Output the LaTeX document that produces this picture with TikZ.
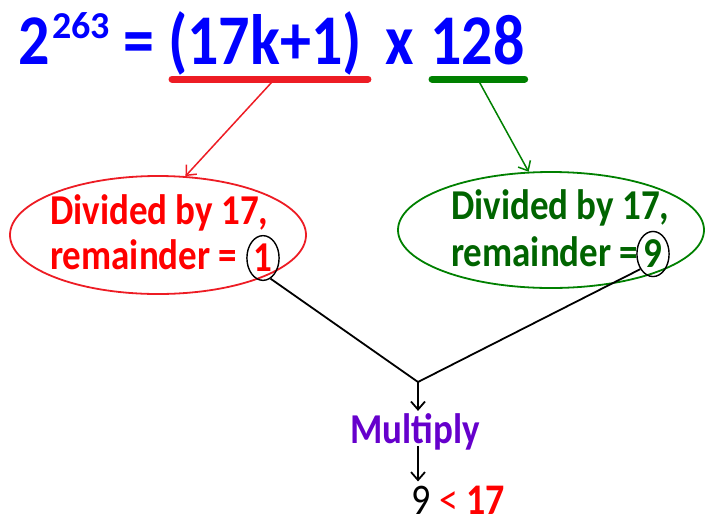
\documentclass[tikz,border=0pt]{standalone}
\usepackage{fontspec}
\usepackage{graphicx}
\setmainfont{Carlito}
\usetikzlibrary{shapes.geometric,arrows.meta}

\definecolor{titleblue}{RGB}{0,0,255}
\definecolor{ovalred}{RGB}{237,28,36}
\definecolor{textred}{RGB}{255,0,0}
\definecolor{ovalgreen}{RGB}{0,128,0}
\definecolor{textgreen}{RGB}{0,100,0}
\definecolor{multpurple}{RGB}{102,0,204}
\newcommand{\vstretch}[1]{\scalebox{1}[1.15]{#1}}

\begin{document}
\begin{tikzpicture}[x=1pt,y=-1pt,>={Straight Barb[length=8pt,width=14pt]}]
\tikzset{
  eqn/.style={font=\fontsize{62}{62}\selectfont\bfseries, text=titleblue, inner sep=0pt, anchor=base west},
  expo/.style={font=\fontsize{38}{38}\selectfont\bfseries, text=titleblue, inner sep=0pt, anchor=base west},
  bar/.style={line width=7pt, line cap=round},
  oval/.style={ellipse, line width=1.8pt, minimum width=296pt, minimum height=118pt},
  label/.style={font=\fontsize{37}{37}\selectfont\bfseries, inner sep=0pt, anchor=base west},
  ring/.style={ellipse, draw=black, line width=1.4pt, inner sep=2pt, font=\fontsize{37}{37}\selectfont\bfseries},
  link/.style={draw=black, line width=1.8pt},
  pointer/.style={->, line width=1.5pt}
}
\useasboundingbox (0,0) rectangle (712,531);

% the equation
\node[eqn] (two) at (18,64) {\vstretch{2}};
\node[expo] (pow) at (52,38) {263};
\node[eqn] (eq) at (123,64) {\vstretch{=}};
\node[eqn] (factor) at (168,64) {\vstretch{(17k+1)}};
\node[eqn] (times) at (385,64) {\vstretch{x}};
\node[eqn] (rest) at (430,64) {\vstretch{128}};

\draw[bar,ovalred] ([shift={(4,15)}]factor.base west) -- ([shift={(6,15)}]factor.base east);
\draw[bar,ovalgreen] ([shift={(2,15)}]rest.base west) -- ([shift={(0,15)}]rest.base east);
\coordinate (redmid) at ([shift={(7,18)}]factor.base);
\coordinate (greenmid) at ([shift={(2,18)}]rest.base);

% the two remainders
\node[oval,draw=ovalred] (lefto) at (158,235) {};
\node[oval,draw=ovalgreen,minimum width=306pt,minimum height=116pt] (righto) at (551,230) {};
\draw[pointer,ovalred] (redmid) -- (lefto.65);
\draw[pointer,ovalgreen] (greenmid) -- (righto.111);

\node[label,text=textred] (ldiv) at (50,224) {\vstretch{Divided by 17,}};
\node[label,text=textred] (lrem) at (50,269) {\vstretch{remainder =}};
\node[ring,text=textred] (lone) at (263,258) {\vstretch{1}};
\node[label,text=textgreen] (rdiv) at (451,219) {\vstretch{Divided by 17,}};
\node[label,text=textgreen] (rrem) at (451,266) {\vstretch{remainder =}};
\node[ring,text=textgreen] (nine) at (653,254) {\vstretch{9}};

% multiply them
\coordinate (join) at (418,382);
\draw[link] (lone.-70) -- (join) -- (nine.-130);
\node[label,text=multpurple,anchor=base,inner sep=2pt] (mult) at (415,443) {\vstretch{Multiply}};
\draw[link,->] (join) -- (join |- mult.north);
\node[font=\fontsize{38}{38}\selectfont, inner sep=0pt, anchor=base west] (res) at (411,514)
  {\vstretch{9 \textcolor{textred}{< \textbf{17}}}};
\draw[link,->] ([yshift=6pt]mult.south -| join) -- ([yshift=4pt]join |- res.north);
\end{tikzpicture}
\end{document}
